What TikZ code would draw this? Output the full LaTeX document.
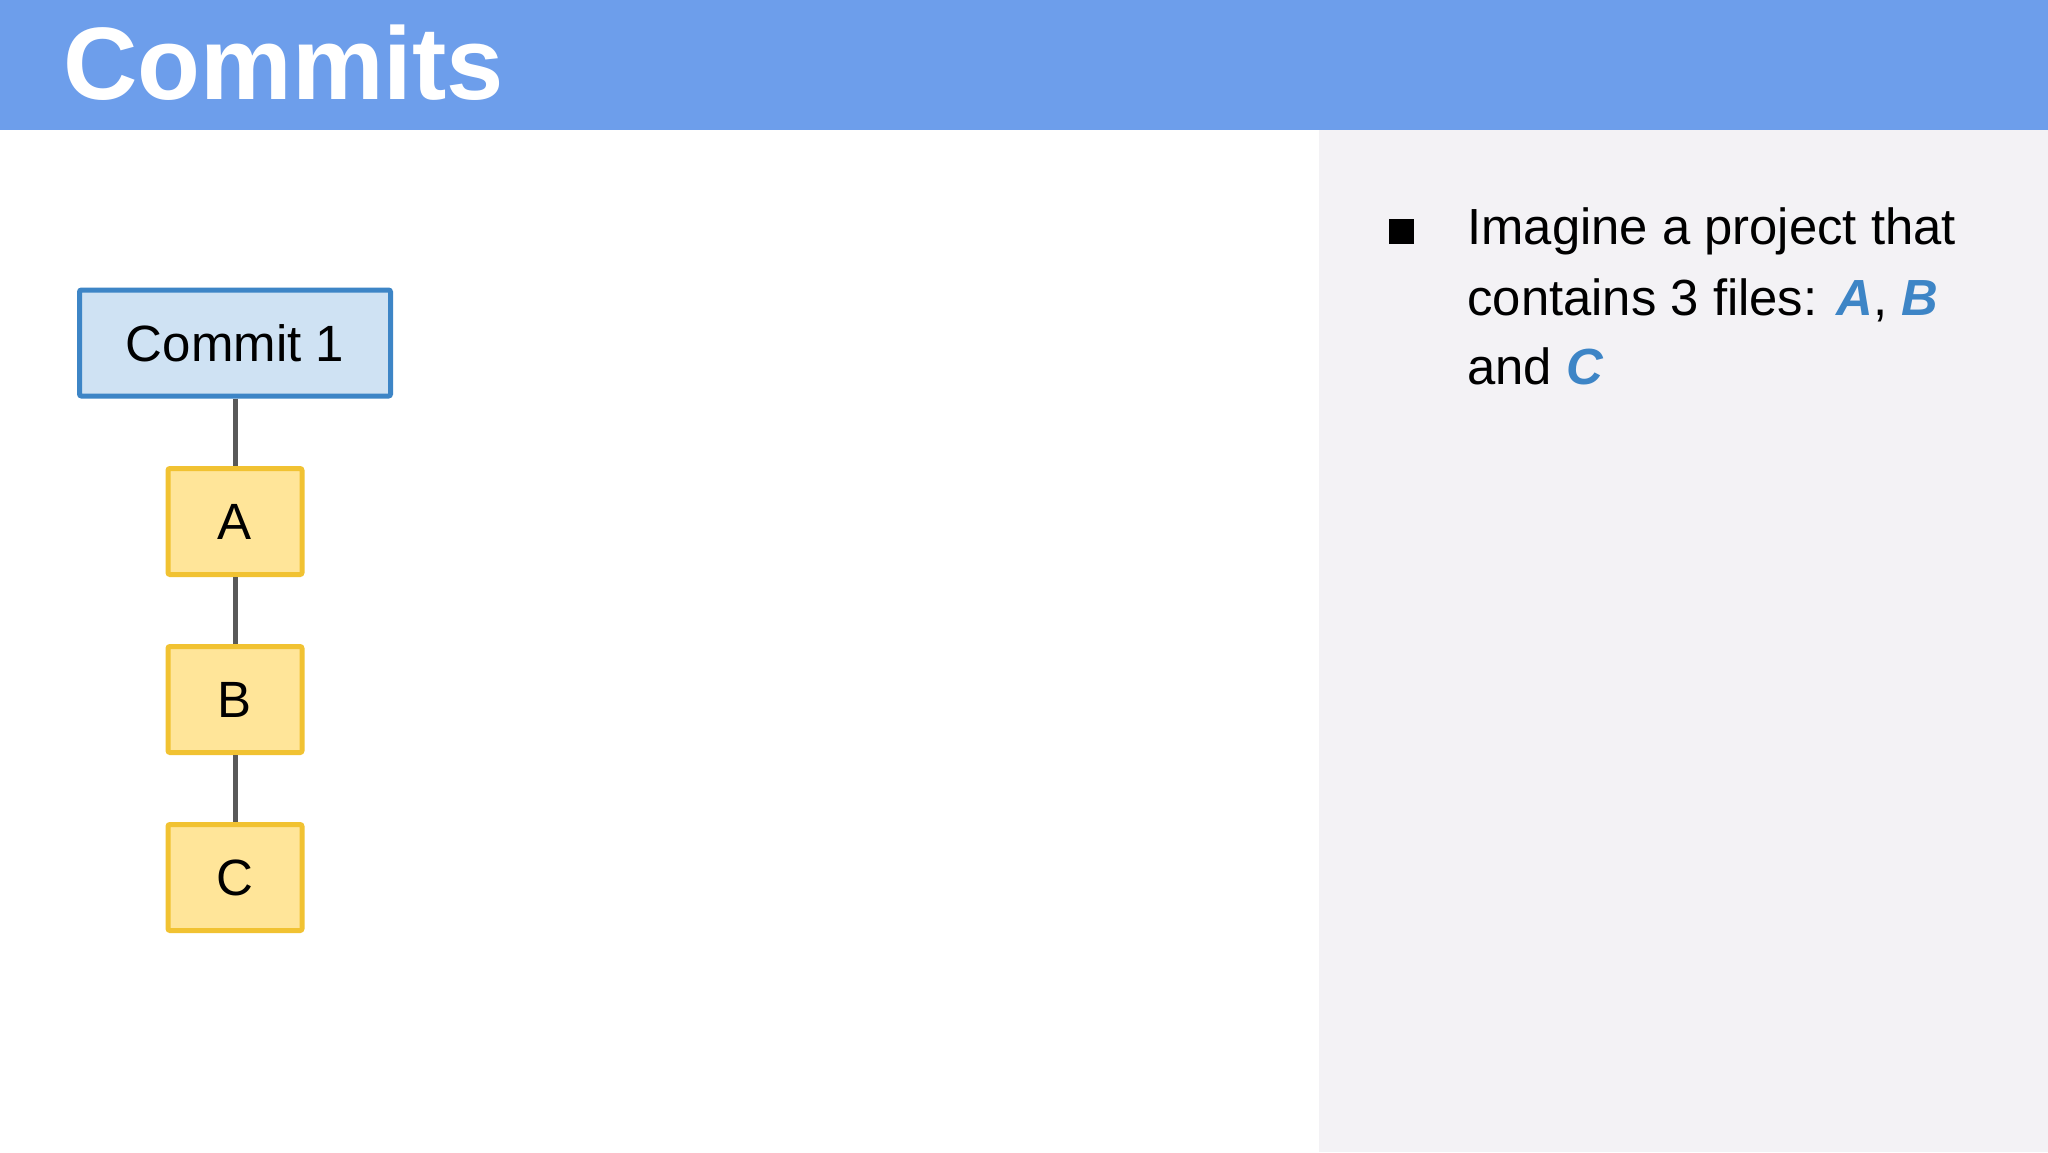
\documentclass[tikz,border=0pt]{standalone}
\usepackage{fontspec}
\setmainfont{Liberation Sans}

\definecolor{headblue}{HTML}{6D9EEB}
\definecolor{panelgray}{HTML}{F3F2F5}
\definecolor{commitblue}{HTML}{3D85C6}
\definecolor{commitfill}{HTML}{CFE2F3}
\definecolor{fileyellow}{HTML}{F1C232}
\definecolor{filefill}{HTML}{FFE599}
\definecolor{linkgray}{HTML}{595959}

\tikzset{
  commitbox/.style={draw=commitblue, fill=commitfill, line width=2.5pt, rounded corners=1pt,
    minimum width=155.5pt, minimum height=53pt, font=\fontsize{25.5}{30}\selectfont},
  filebox/.style={draw=fileyellow, fill=filefill, line width=2.5pt, rounded corners=1pt,
    minimum width=67pt, minimum height=53pt, font=\fontsize{25.5}{30}\selectfont},
  link/.style={draw=linkgray, line width=2.5pt},
  textline/.style={anchor=base west, inner sep=0pt, font=\fontsize{25.4}{30}\selectfont},
}
\newcommand{\fname}[1]{\textcolor{commitblue}{\textbf{\textit{#1}}}}

\begin{document}
\begin{tikzpicture}[x=0.5pt,y=-0.5pt]
\useasboundingbox (0,0) rectangle (2048,1152);
\fill[white] (0,0) rectangle (2048,1152);
\fill[headblue] (0,0) rectangle (2048,130);
\fill[panelgray] (1319,130) rectangle (2048,1152);

\node[anchor=base west, inner sep=0pt, text=white, font=\fontsize{51.5}{60}\bfseries] (title) at (63,99) {Commits};

% the commit and its files
\node[commitbox] (commit) at (235,343) {Commit 1};
\node[filebox] (a) at (235,521.5) {A};
\node[filebox] (b) at (235,699.5) {B};
\node[filebox] (c) at (235,877.5) {C};
\draw[link] (commit) -- (a)
(a) -- (b)
(b) -- (c);

% side panel
\node[fill=black, inner sep=0pt, minimum size=12.5pt] (bullet) at (1401.5,231.5) {};
\node[textline] (line1) at (1467,244) {Imagine a project that};
\node[textline] (line2) at (1467,315) {contains 3 files: \fname{A}, \fname{B}};
\node[textline] (line3) at (1467,384) {and \fname{C}};
\end{tikzpicture}
\end{document}
